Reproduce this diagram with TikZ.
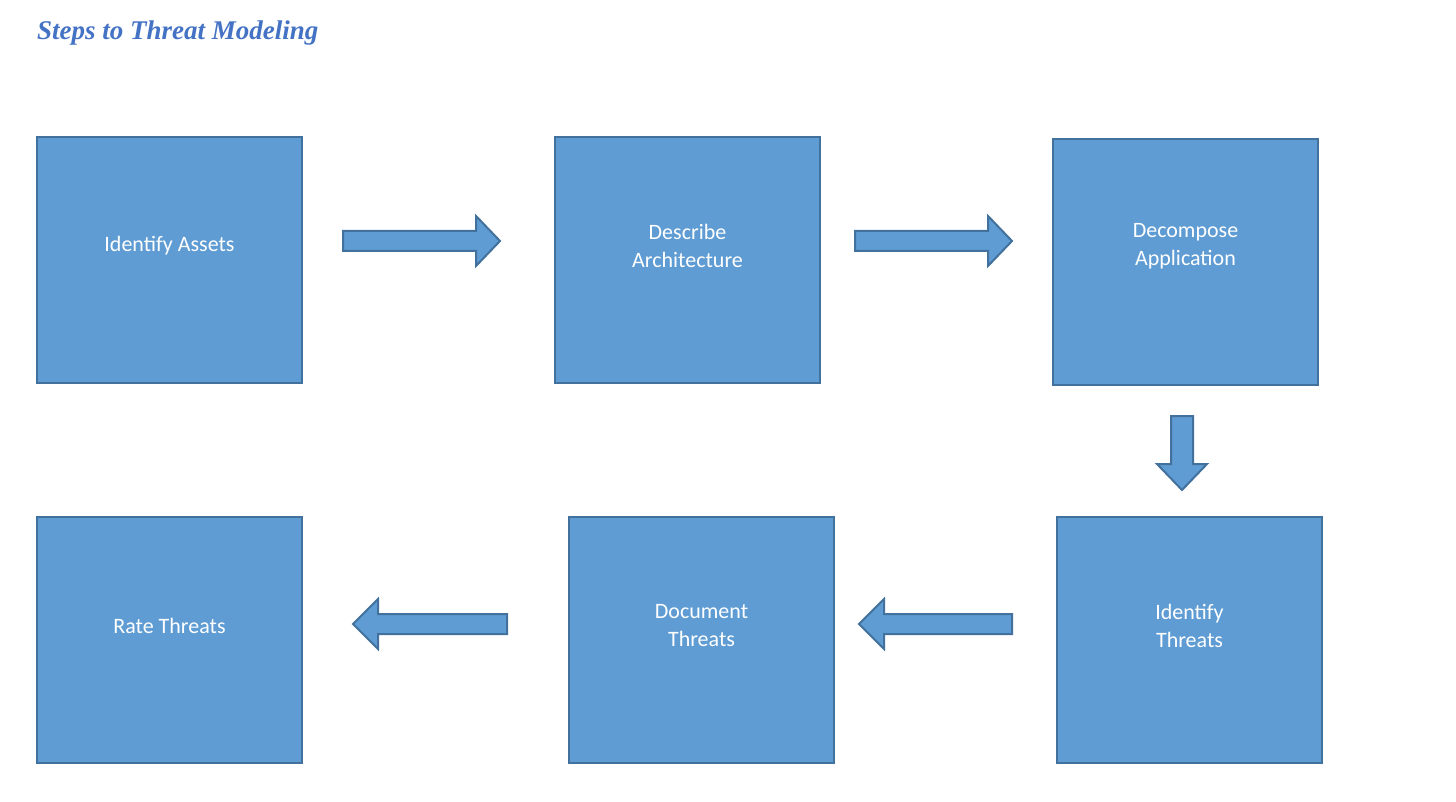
\documentclass[tikz,border=0pt]{standalone}
\usepackage{fontspec}
\setmainfont{Carlito}
\newfontfamily\titlefont{Liberation Serif}
\definecolor{boxfill}{HTML}{5E9CD3}
\definecolor{boxedge}{HTML}{41719C}
\definecolor{titleblue}{HTML}{4472C4}
\begin{document}
\begin{tikzpicture}[x=1pt,y=-1pt,
  stepbox/.style={draw=boxedge,line width=2.5pt,fill=boxfill,text=white,font=\fontsize{22}{28}\selectfont,align=center},
  blockarrow/.style={draw=boxedge,line width=2pt,fill=boxfill,line join=miter}]
\useasboundingbox (0,0) rectangle (1456,802);
\node[anchor=base west,text=titleblue,font=\titlefont\bfseries\itshape\fontsize{27}{30}\selectfont,inner sep=0] (title) at (37,40) {Steps to Threat Modeling};
\path[stepbox] (37,137) rectangle (302,383);
\node[text=white,font=\fontsize{22}{28}\selectfont,align=center] (a) at (169.5,246) {Identify Assets};
\path[stepbox] (555,137) rectangle (820,383);
\node[text=white,font=\fontsize{22}{28}\selectfont,align=center] (b) at (687.5,246) {Describe\\Architecture};
\path[stepbox] (1053,139) rectangle (1318,385);
\node[text=white,font=\fontsize{22}{28}\selectfont,align=center] (c) at (1185.5,246) {Decompose\\Application};
\path[stepbox] (1057,517) rectangle (1322,763);
\node[text=white,font=\fontsize{22}{28}\selectfont,align=center] (d) at (1189.5,626) {Identify\\Threats};
\path[stepbox] (569,517) rectangle (834,763);
\node[text=white,font=\fontsize{22}{28}\selectfont,align=center] (e) at (701.5,626) {Document\\Threats};
\path[stepbox] (37,517) rectangle (302,763);
\node[text=white,font=\fontsize{22}{28}\selectfont,align=center] (f) at (169.5,626) {Rate Threats};
% right arrows
\draw[blockarrow] (343,231) -- (476,231) -- (476,216) -- (500,241) -- (476,266) -- (476,251) -- (343,251) -- cycle;
\draw[blockarrow] (855,231) -- (988,231) -- (988,216) -- (1012,241) -- (988,266) -- (988,251) -- (855,251) -- cycle;
% down arrow
\draw[blockarrow] (1171,416) -- (1193,416) -- (1193,464) -- (1207,464) -- (1182,490) -- (1157,464) -- (1171,464) -- cycle;
% left arrows
\draw[blockarrow] (1012,614) -- (884,614) -- (884,599) -- (859,624) -- (884,649) -- (884,634) -- (1012,634) -- cycle;
\draw[blockarrow] (507,614) -- (378,614) -- (378,599) -- (353,624) -- (378,649) -- (378,634) -- (507,634) -- cycle;
\end{tikzpicture}
\end{document}
